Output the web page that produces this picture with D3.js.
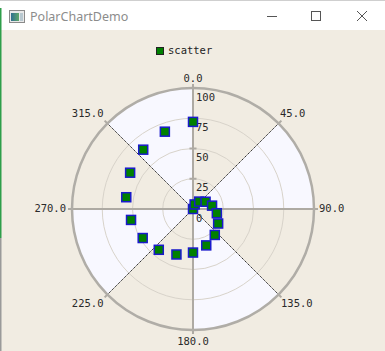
<!DOCTYPE html>
<html>
<head>
<meta charset="utf-8">
<script src="https://cdn.jsdelivr.net/npm/d3@7"></script>
<style>
  html, body { margin: 0; padding: 0; background: #f1ece2; }
  svg { display: block; }
</style>
</head>
<body>
<svg id="chart" width="385" height="351"></svg>
<script>
// Data
const seriesName = "scatter";
const angles = [0, 20, 40, 60, 80, 100, 120, 140, 160, 180, 200, 220, 240, 260, 280, 300, 320, 340, 360];
const radii = [0, 4, 8, 12, 16, 20, 24, 28, 32, 36, 40, 44, 48, 52, 56, 60, 64, 68, 72];
const angularTicks = [0, 45, 90, 135, 180, 225, 270, 315, 360];
const radialTicks = [0, 25, 50, 75, 100];

const svg = d3.select("#chart");
const W = 385, H = 351;

// window chrome
svg.append("rect").attr("x", 0).attr("y", 0).attr("width", W).attr("height", H).attr("fill", "#f1ece2");
svg.append("rect").attr("x", 0).attr("y", 0).attr("width", W).attr("height", 30).attr("fill", "#ffffff");
svg.append("line").attr("x1", 0).attr("x2", W).attr("y1", 0.5).attr("y2", 0.5).attr("stroke", "#cfcfcf");
svg.append("line").attr("x1", 0.75).attr("x2", 0.75).attr("y1", 8).attr("y2", 238)
    .attr("stroke", "#2e9e4a").attr("stroke-width", 1.5);
svg.append("line").attr("x1", 0.75).attr("x2", 0.75).attr("y1", 238).attr("y2", H)
    .attr("stroke", "#9a9a9a").attr("stroke-width", 1.5);

// title bar icon
const grad = svg.append("defs").append("linearGradient").attr("id", "ico");
grad.append("stop").attr("offset", "0%").attr("stop-color", "#2f6f8f");
grad.append("stop").attr("offset", "100%").attr("stop-color", "#5fa86a");
svg.append("rect").attr("x", 9.5).attr("y", 10.5).attr("width", 15).attr("height", 12)
    .attr("fill", "#e8e8e8").attr("stroke", "#8a8a8a");
svg.append("rect").attr("x", 11).attr("y", 13).attr("width", 8).attr("height", 8).attr("fill", "url(#ico)");
svg.append("rect").attr("x", 20).attr("y", 13).attr("width", 3).attr("height", 8).attr("fill", "#b8c8d0");

svg.append("text").attr("x", 30).attr("y", 20.5)
    .attr("font-family", "'Noto Sans', sans-serif").attr("font-size", 12.5)
    .attr("fill", "#8c8c8c").text("PolarChartDemo");

// window buttons
svg.append("line").attr("x1", 267).attr("x2", 277).attr("y1", 16.5).attr("y2", 16.5).attr("stroke", "#555");
svg.append("rect").attr("x", 311.5).attr("y", 11.5).attr("width", 9).attr("height", 9)
    .attr("fill", "none").attr("stroke", "#555");
svg.append("path").attr("d", "M357,11L367,21M367,11L357,21").attr("stroke", "#555").attr("fill", "none");

// polar chart
const cx = 193, cy = 209, R = 121;
const r = d3.scaleLinear().domain([0, 100]).range([0, R]);
const a = d3.scaleLinear().domain([0, 360]).range([0, 2 * Math.PI]);
const g = svg.append("g").attr("transform", `translate(${cx},${cy})`);

const pt = (ang, rad) => [Math.sin(a(ang)) * rad, -Math.cos(a(ang)) * rad];

// shaded sectors
const arc = d3.arc().innerRadius(0).outerRadius(R);
for (let i = 1; i < angularTicks.length - 1; i += 2) {
  g.append("path")
    .attr("d", arc({ startAngle: a(angularTicks[i]), endAngle: a(angularTicks[i + 1]) }))
    .attr("fill", "#f8f8ff");
}

// radial grid circles
g.selectAll("circle.grid")
  .data(radialTicks.slice(1, -1))
  .enter().append("circle")
  .attr("class", "grid")
  .attr("r", d => r(d))
  .attr("fill", "none")
  .attr("stroke", "#d8d3ca")
  .attr("stroke-width", 1);

// angular grid lines
angularTicks.slice(0, -1).forEach(t => {
  const [x, y] = pt(t, R);
  const main = t % 90 === 0;
  g.append("line")
    .attr("x1", 0).attr("y1", 0).attr("x2", x).attr("y2", y)
    .attr("stroke", main ? "#aeaaa3" : "#2a2a2a")
    .attr("stroke-width", main ? 2 : 1)
    .attr("stroke-dasharray", main ? null : "1.4,0.7");
  const [x2, y2] = pt(t, R + 4);
  g.append("line")
    .attr("x1", x).attr("y1", y).attr("x2", x2).attr("y2", y2)
    .attr("stroke", "#aeaaa3").attr("stroke-width", 2);
});

// outer circle
g.append("circle").attr("r", R).attr("fill", "none")
  .attr("stroke", "#b0ada7").attr("stroke-width", 2.5);

// radial ticks and labels
radialTicks.forEach(t => {
  if (t > 0) {
    g.append("line").attr("x1", -3.5).attr("x2", 3.5)
      .attr("y1", -r(t)).attr("y2", -r(t))
      .attr("stroke", "#aeaaa3").attr("stroke-width", 2);
  }
  g.append("text")
    .attr("x", 3).attr("y", -r(t) + 9.5)
    .attr("dominant-baseline", "middle")
    .attr("font-family", "'DejaVu Sans Mono', monospace").attr("font-size", 10.5)
    .attr("fill", "#2a2a2a").text(t);
});

// angular labels
angularTicks.slice(0, -1).forEach(t => {
  const [x, y] = pt(t, R);
  let anchor = "middle", dx = 0, dy = 0;
  if (t === 0) { dy = -9; }
  else if (t === 180) { dy = 12; }
  else if (t === 90) { anchor = "start"; dx = 5; }
  else if (t === 270) { anchor = "end"; dx = -6; }
  else if (t === 45) { anchor = "start"; dx = 1.5; dy = -9.5; }
  else if (t === 135) { anchor = "start"; dx = 2.5; dy = 9.5; }
  else if (t === 225) { anchor = "end"; dx = -4; dy = 9.5; }
  else if (t === 315) { anchor = "end"; dx = -4; dy = -9.5; }
  g.append("text")
    .attr("x", x + dx).attr("y", y + dy)
    .attr("text-anchor", anchor)
    .attr("dominant-baseline", "middle")
    .attr("font-family", "'DejaVu Sans Mono', monospace").attr("font-size", 10.5)
    .attr("fill", "#2a2a2a").text(t.toFixed(1));
});

// scatter points
const data = angles.map((d, i) => ({ angle: d, value: radii[i] }));
g.selectAll("rect.point")
  .data(data)
  .enter().append("rect")
  .attr("class", "point")
  .attr("x", d => pt(d.angle, r(d.value))[0] - 4.5)
  .attr("y", d => pt(d.angle, r(d.value))[1] - 4.5)
  .attr("width", 9).attr("height", 9)
  .attr("fill", "#008000")
  .attr("stroke", "#1a1acc")
  .attr("stroke-width", 1.5);

// legend
svg.append("rect").attr("x", 156.5).attr("y", 47.5).attr("width", 7).attr("height", 7)
  .attr("fill", "#008000").attr("stroke", "#222").attr("stroke-width", 1);
svg.append("text").attr("x", 168).attr("y", 51)
  .attr("dominant-baseline", "middle")
  .attr("font-family", "'DejaVu Sans Mono', monospace").attr("font-size", 10.5)
  .attr("fill", "#222").text(seriesName);
</script>
</body>
</html>
